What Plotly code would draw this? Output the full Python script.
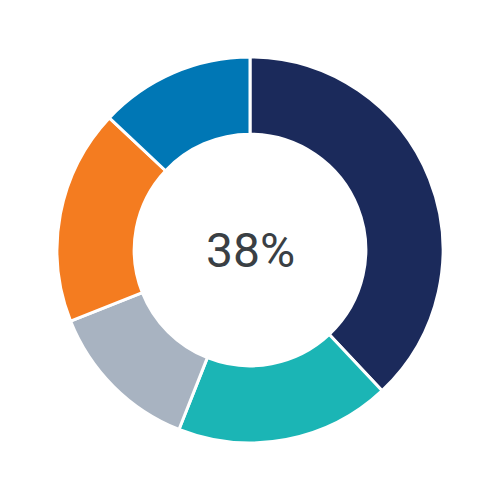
import plotly.graph_objects as go

labels = ["A", "B", "C", "D", "E"]
values = [38, 18, 13, 18, 13]
colors = ["#1B2A5B", "#1BB5B5", "#A8B3C1", "#F47C20", "#0077B5"]
center_text = "38%"

fig = go.Figure(go.Pie(
    labels=labels,
    values=values,
    hole=0.6,
    sort=False,
    direction="clockwise",
    rotation=0,
    marker=dict(colors=colors, line=dict(color="white", width=3)),
    textinfo="none",
    hoverinfo="label+percent",
))

# page has an 8px body offset, so shift the plot area up/left
fig.update_layout(
    width=500, height=500,
    margin=dict(l=49, r=65, t=49, b=65),
    showlegend=False,
    paper_bgcolor="white",
    annotations=[dict(text=center_text, x=0.5, y=0.5, showarrow=False,
                      font=dict(family="Roboto", size=48, color="#3A3F44"))],
)

fig.write_html("out.html")
